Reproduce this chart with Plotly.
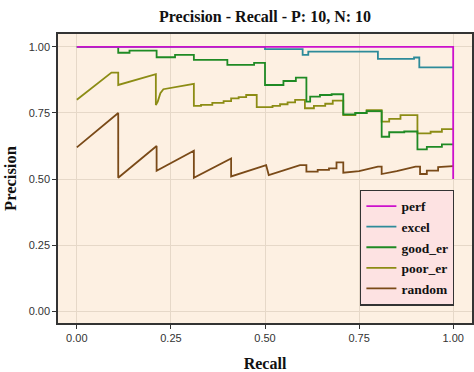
import plotly.graph_objects as go

# ---- data ----
series_names = ["perf", "excel", "good_er", "poor_er", "random"]

perf_x = [0.0, 1.0, 1.0]
perf_y = [1.0, 1.0, 0.5]

excel_x = [0.0, 0.5, 0.5, 0.6, 0.6, 0.615, 0.615, 0.8, 0.8, 0.896, 0.896, 0.91, 0.91, 1.0]
excel_y = [1.0, 1.0, 0.992, 0.992, 0.97, 0.97, 0.982, 0.982, 0.955, 0.955, 0.96, 0.96, 0.923, 0.923]

good_x = [0.0, 0.11, 0.11, 0.14, 0.14, 0.212, 0.212, 0.261, 0.261, 0.311, 0.311, 0.4, 0.4,
          0.471, 0.471, 0.5, 0.5, 0.549, 0.549, 0.582, 0.582, 0.61, 0.61, 0.62, 0.62, 0.646,
          0.646, 0.677, 0.677, 0.708, 0.708, 0.74, 0.74, 0.77, 0.77, 0.81, 0.81, 0.83, 0.83,
          0.87, 0.87, 0.905, 0.905, 0.93, 0.93, 0.97, 0.97, 1.0]
good_y = [1.0, 1.0, 0.978, 0.978, 0.986, 0.986, 0.961, 0.961, 0.97, 0.97, 0.951, 0.951, 0.932,
          0.932, 0.94, 0.94, 0.856, 0.856, 0.871, 0.871, 0.884, 0.884, 0.793, 0.793, 0.812, 0.812,
          0.818, 0.818, 0.821, 0.821, 0.745, 0.745, 0.75, 0.75, 0.757, 0.757, 0.66, 0.66, 0.677,
          0.677, 0.68, 0.68, 0.612, 0.612, 0.622, 0.622, 0.631, 0.631]

poor_x = [0.0, 0.092, 0.11, 0.11, 0.21, 0.21, 0.215, 0.222, 0.23, 0.311, 0.311,
          0.33, 0.33, 0.36, 0.36, 0.39, 0.39, 0.41, 0.41, 0.43, 0.43, 0.45, 0.45, 0.478, 0.478,
          0.52, 0.52, 0.54, 0.54, 0.56, 0.56, 0.58, 0.58, 0.606, 0.606,
          0.63, 0.63, 0.66, 0.66, 0.68, 0.68, 0.708, 0.708,
          0.74, 0.74, 0.77, 0.77, 0.81, 0.81, 0.83, 0.83, 0.86, 0.86, 0.905, 0.905,
          0.94, 0.94, 0.97, 0.97, 1.0]
poor_y = [0.8, 0.903, 0.903, 0.856, 0.897, 0.78, 0.793, 0.825, 0.84, 0.86, 0.777,
          0.777, 0.781, 0.781, 0.788, 0.788, 0.795, 0.795, 0.805, 0.805, 0.81, 0.81, 0.818, 0.818, 0.772,
          0.772, 0.777, 0.777, 0.783, 0.783, 0.79, 0.79, 0.8, 0.8, 0.768,
          0.768, 0.777, 0.777, 0.785, 0.785, 0.797, 0.797, 0.742,
          0.742, 0.75, 0.75, 0.761, 0.761, 0.717, 0.717, 0.728, 0.728, 0.742, 0.742, 0.673,
          0.673, 0.679, 0.679, 0.689, 0.689]

rand_x = [0.0, 0.11, 0.11, 0.212, 0.212, 0.311, 0.311, 0.41, 0.41, 0.503, 0.51, 0.593, 0.61,
          0.61, 0.64, 0.64, 0.67, 0.67, 0.69, 0.69, 0.708, 0.708, 0.75, 0.8, 0.81, 0.81, 0.85,
          0.9, 0.912, 0.912, 0.93, 0.93, 0.96, 0.96, 1.0]
rand_y = [0.62, 0.75, 0.505, 0.625, 0.531, 0.607, 0.505, 0.578, 0.51, 0.553, 0.515, 0.553, 0.553,
          0.528, 0.528, 0.535, 0.535, 0.54, 0.54, 0.563, 0.563, 0.524, 0.53, 0.547, 0.547, 0.519, 0.53,
          0.547, 0.547, 0.519, 0.519, 0.532, 0.532, 0.545, 0.549]

x_ticks = [0.0, 0.25, 0.5, 0.75, 1.0]
x_tick_labels = ["0.00", "0.25", "0.50", "0.75", "1.00"]
y_ticks = [0.0, 0.25, 0.5, 0.75, 1.0]
y_tick_labels = ["0.00", "0.25", "0.50", "0.75", "1.00"]

colors = ["#CC10CC", "#2E8B9A", "#1F8A24", "#8C8C14", "#7A4A18"]

xs = [perf_x, excel_x, good_x, poor_x, rand_x]
ys = [perf_y, excel_y, good_y, poor_y, rand_y]

fig = go.Figure()
# draw in reverse so perf is on top
order = [4, 3, 2, 1, 0]
for i in order:
    fig.add_trace(go.Scatter(x=xs[i], y=ys[i], mode="lines", name="<b>" + series_names[i] + "</b>",
                             line=dict(color=colors[i], width=1.8), legendrank=i + 1))

serif = "Liberation Serif"
sans = "Liberation Sans"

fig.update_layout(
    width=474, height=372,
    margin=dict(l=58, r=2, t=34, b=49),
    paper_bgcolor="white",
    plot_bgcolor="#FDF0E2",
    title=dict(text="<b>Precision - Recall - P: 10, N: 10</b>", x=(58 + 472) / 2 / 474, xanchor="center",
               y=1 - 16 / 372, yanchor="middle", font=dict(family=serif, size=16, color="#111")),
    legend=dict(x=0.957, y=0.06, xanchor="right", yanchor="bottom",
                bgcolor="#FDE2E2", bordercolor="#333", borderwidth=1.2,
                font=dict(family=serif, size=13.5, color="#111"),
                itemwidth=30),
    showlegend=True,
    hovermode=False,
)

fig.update_xaxes(
    range=[-0.05, 1.05], tickvals=x_ticks, ticktext=x_tick_labels, automargin=False,
    showgrid=True, gridcolor="#E6D8C8", gridwidth=1, zeroline=False,
    showline=True, linecolor="#333", linewidth=1.5, mirror=True,
    ticks="outside", ticklen=4, tickcolor="#333",
    tickfont=dict(family=sans, size=11, color="#333"),
    title=dict(text="<b>Recall</b>", font=dict(family=serif, size=16, color="#111"), standoff=15),
)
fig.update_yaxes(
    range=[-0.045, 1.049], tickvals=y_ticks, ticktext=y_tick_labels, automargin=False,
    showgrid=True, gridcolor="#E6D8C8", gridwidth=1, zeroline=False,
    showline=True, linecolor="#333", linewidth=1.5, mirror=True,
    ticks="outside", ticklen=4, tickcolor="#333",
    tickfont=dict(family=sans, size=11, color="#333"),
    title=dict(text="<b>Precision</b>", font=dict(family=serif, size=16.5, color="#111"), standoff=8),
)

fig.write_html("out.html", config={"displayModeBar": False},
               post_script="document.body.style.margin='0';document.body.style.overflow='hidden';")
